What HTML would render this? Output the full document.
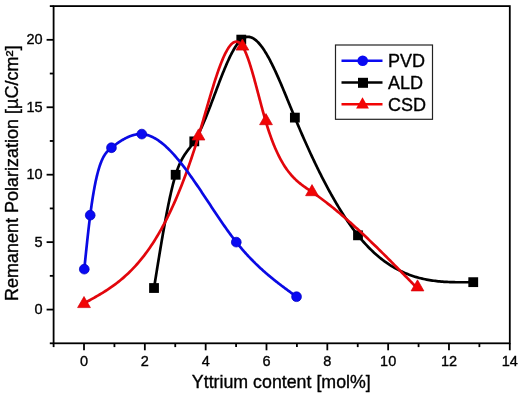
<!DOCTYPE html>
<html><head><meta charset="utf-8"><style>
html,body{margin:0;padding:0;background:#fff;}
svg{display:block;font-family:"Liberation Sans",Arial,sans-serif;}
text{stroke:#000;stroke-width:0.35px;}
</style></head><body>
<svg width="520" height="393" viewBox="0 0 520 393">
<rect width="520" height="393" fill="#fff"/>

<path d="M154.02,288.01 L154.30,286.32 L154.57,284.63 L154.84,282.95 L155.11,281.26 L155.38,279.57 L155.65,277.89 L155.92,276.20 L156.19,274.52 L156.46,272.84 L156.73,271.16 L157.00,269.49 L157.27,267.82 L157.54,266.15 L157.81,264.48 L158.08,262.82 L158.35,261.16 L158.62,259.51 L158.89,257.86 L159.16,256.21 L159.43,254.57 L159.70,252.94 L159.97,251.31 L160.24,249.68 L160.51,248.06 L160.78,246.45 L161.05,244.85 L161.32,243.25 L161.59,241.65 L161.86,240.07 L162.13,238.49 L162.40,236.92 L162.67,235.36 L162.94,233.81 L163.21,232.26 L163.49,230.72 L163.76,229.20 L164.03,227.68 L164.30,226.17 L164.57,224.67 L164.84,223.18 L165.11,221.70 L165.38,220.24 L165.65,218.78 L165.92,217.33 L166.19,215.90 L166.46,214.47 L166.73,213.06 L167.00,211.66 L167.27,210.28 L167.54,208.90 L167.81,207.54 L168.08,206.19 L168.35,204.85 L168.62,203.53 L168.89,202.22 L169.16,200.93 L169.43,199.65 L169.70,198.39 L169.97,197.14 L170.24,195.90 L170.51,194.68 L170.78,193.48 L171.05,192.29 L171.32,191.12 L171.59,189.96 L171.86,188.83 L172.13,187.70 L172.41,186.60 L172.68,185.51 L172.95,184.44 L173.22,183.39 L173.49,182.36 L173.76,181.34 L174.03,180.35 L174.30,179.37 L174.57,178.41 L174.84,177.48 L175.11,176.56 L175.38,175.66 L175.65,174.78 L175.88,174.04 L176.11,173.31 L176.35,172.60 L176.58,171.91 L176.81,171.23 L177.05,170.56 L177.28,169.90 L177.51,169.26 L177.75,168.63 L177.98,168.02 L178.21,167.42 L178.45,166.83 L178.68,166.25 L178.91,165.68 L179.14,165.13 L179.38,164.58 L179.61,164.05 L179.84,163.53 L180.08,163.02 L180.31,162.52 L180.54,162.03 L180.78,161.55 L181.01,161.08 L181.24,160.62 L181.47,160.16 L181.71,159.72 L181.94,159.28 L182.17,158.85 L182.41,158.43 L182.64,158.02 L182.87,157.62 L183.11,157.22 L183.34,156.83 L183.57,156.45 L183.81,156.07 L184.04,155.70 L184.27,155.33 L184.50,154.97 L184.74,154.61 L184.97,154.26 L185.20,153.92 L185.44,153.58 L185.67,153.24 L185.90,152.91 L186.14,152.58 L186.37,152.25 L186.60,151.93 L186.83,151.61 L187.07,151.29 L187.30,150.98 L187.53,150.67 L187.77,150.36 L188.00,150.05 L188.23,149.74 L188.47,149.43 L188.70,149.13 L188.93,148.82 L189.17,148.52 L189.40,148.21 L189.63,147.91 L189.86,147.60 L190.10,147.30 L190.33,146.99 L190.56,146.68 L190.80,146.37 L191.03,146.06 L191.26,145.75 L191.50,145.43 L191.73,145.11 L191.96,144.79 L192.19,144.47 L192.43,144.14 L192.66,143.81 L192.89,143.47 L193.13,143.13 L193.36,142.78 L193.59,142.44 L193.83,142.08 L194.06,141.72 L194.29,141.36 L194.88,140.41 L195.47,139.43 L196.05,138.42 L196.64,137.37 L197.23,136.29 L197.82,135.18 L198.40,134.04 L198.99,132.87 L199.58,131.67 L200.17,130.44 L200.75,129.19 L201.34,127.91 L201.93,126.61 L202.52,125.29 L203.10,123.94 L203.69,122.57 L204.28,121.19 L204.86,119.78 L205.45,118.36 L206.04,116.92 L206.63,115.46 L207.21,113.99 L207.80,112.51 L208.39,111.01 L208.98,109.50 L209.56,107.99 L210.15,106.46 L210.74,104.92 L211.33,103.38 L211.91,101.83 L212.50,100.28 L213.09,98.72 L213.67,97.16 L214.26,95.60 L214.85,94.03 L215.44,92.47 L216.02,90.91 L216.61,89.34 L217.20,87.79 L217.79,86.23 L218.37,84.69 L218.96,83.14 L219.55,81.61 L220.14,80.08 L220.72,78.57 L221.31,77.06 L221.90,75.57 L222.49,74.09 L223.07,72.62 L223.66,71.17 L224.25,69.73 L224.83,68.31 L225.42,66.91 L226.01,65.52 L226.60,64.16 L227.18,62.82 L227.77,61.50 L228.36,60.20 L228.95,58.93 L229.53,57.68 L230.12,56.46 L230.71,55.26 L231.30,54.10 L231.88,52.96 L232.47,51.85 L233.06,50.78 L233.65,49.73 L234.23,48.73 L234.82,47.75 L235.41,46.81 L235.99,45.91 L236.58,45.05 L237.17,44.22 L237.76,43.44 L238.34,42.69 L238.93,41.99 L239.52,41.33 L240.11,40.71 L240.69,40.14 L241.28,39.62 L241.95,39.08 L242.62,38.60 L243.29,38.18 L243.96,37.81 L244.63,37.51 L245.30,37.26 L245.97,37.07 L246.64,36.94 L247.31,36.86 L247.98,36.83 L248.65,36.85 L249.32,36.93 L249.99,37.06 L250.66,37.24 L251.33,37.47 L252.00,37.74 L252.67,38.07 L253.34,38.44 L254.01,38.86 L254.68,39.32 L255.35,39.83 L256.02,40.38 L256.69,40.97 L257.36,41.61 L258.03,42.28 L258.70,43.00 L259.37,43.76 L260.04,44.55 L260.71,45.38 L261.38,46.25 L262.05,47.15 L262.72,48.09 L263.39,49.06 L264.06,50.07 L264.73,51.11 L265.40,52.18 L266.07,53.28 L266.74,54.41 L267.40,55.57 L268.07,56.76 L268.74,57.97 L269.41,59.21 L270.08,60.48 L270.75,61.77 L271.42,63.09 L272.09,64.43 L272.76,65.79 L273.43,67.17 L274.10,68.58 L274.77,70.00 L275.44,71.44 L276.11,72.90 L276.78,74.38 L277.45,75.87 L278.12,77.38 L278.79,78.90 L279.46,80.44 L280.13,81.99 L280.80,83.55 L281.47,85.12 L282.14,86.70 L282.81,88.30 L283.48,89.90 L284.15,91.51 L284.82,93.12 L285.49,94.74 L286.16,96.37 L286.83,98.00 L287.50,99.64 L288.17,101.27 L288.84,102.91 L289.51,104.55 L290.18,106.19 L290.85,107.83 L291.52,109.47 L292.19,111.11 L292.86,112.74 L293.53,114.37 L294.20,115.99 L294.87,117.61 L295.66,119.50 L296.45,121.39 L297.24,123.27 L298.03,125.14 L298.82,127.00 L299.60,128.84 L300.39,130.68 L301.18,132.51 L301.97,134.34 L302.76,136.15 L303.55,137.95 L304.34,139.74 L305.13,141.52 L305.92,143.29 L306.71,145.05 L307.50,146.80 L308.29,148.54 L309.08,150.27 L309.86,151.99 L310.65,153.70 L311.44,155.40 L312.23,157.09 L313.02,158.77 L313.81,160.44 L314.60,162.09 L315.39,163.74 L316.18,165.38 L316.97,167.00 L317.76,168.61 L318.55,170.22 L319.33,171.81 L320.12,173.39 L320.91,174.96 L321.70,176.52 L322.49,178.07 L323.28,179.61 L324.07,181.13 L324.86,182.65 L325.65,184.15 L326.44,185.64 L327.23,187.12 L328.02,188.59 L328.81,190.05 L329.59,191.49 L330.38,192.93 L331.17,194.35 L331.96,195.76 L332.75,197.16 L333.54,198.54 L334.33,199.92 L335.12,201.28 L335.91,202.63 L336.70,203.97 L337.49,205.30 L338.28,206.61 L339.07,207.91 L339.85,209.20 L340.64,210.48 L341.43,211.74 L342.22,212.99 L343.01,214.23 L343.80,215.46 L344.59,216.68 L345.38,217.88 L346.17,219.07 L346.96,220.24 L347.75,221.40 L348.54,222.55 L349.33,223.69 L350.11,224.82 L350.90,225.93 L351.69,227.03 L352.48,228.11 L353.27,229.18 L354.06,230.24 L354.85,231.28 L355.64,232.32 L356.43,233.33 L357.22,234.34 L358.01,235.33 L359.47,237.12 L360.92,238.87 L362.38,240.58 L363.84,242.24 L365.30,243.85 L366.76,245.42 L368.22,246.95 L369.68,248.44 L371.14,249.88 L372.59,251.29 L374.05,252.65 L375.51,253.97 L376.97,255.25 L378.43,256.50 L379.89,257.70 L381.35,258.87 L382.80,260.00 L384.26,261.10 L385.72,262.15 L387.18,263.18 L388.64,264.17 L390.10,265.12 L391.56,266.04 L393.02,266.93 L394.47,267.78 L395.93,268.61 L397.39,269.40 L398.85,270.16 L400.31,270.89 L401.77,271.59 L403.23,272.26 L404.68,272.91 L406.14,273.53 L407.60,274.12 L409.06,274.68 L410.52,275.22 L411.98,275.73 L413.44,276.22 L414.90,276.68 L416.35,277.12 L417.81,277.54 L419.27,277.93 L420.73,278.30 L422.19,278.65 L423.65,278.98 L425.11,279.29 L426.57,279.59 L428.02,279.86 L429.48,280.11 L430.94,280.35 L432.40,280.57 L433.86,280.77 L435.32,280.96 L436.78,281.13 L438.23,281.29 L439.69,281.43 L441.15,281.56 L442.61,281.67 L444.07,281.78 L445.53,281.87 L446.99,281.95 L448.45,282.02 L449.90,282.08 L451.36,282.13 L452.82,282.17 L454.28,282.21 L455.74,282.23 L457.20,282.25 L458.66,282.26 L460.12,282.27 L461.57,282.27 L463.03,282.27 L464.49,282.26 L465.95,282.25 L467.41,282.23 L468.87,282.22 L470.33,282.20 L471.78,282.18 L473.24,282.16" fill="none" stroke="#000000" stroke-width="2.7" stroke-linejoin="round"/>
<rect x="149.12" y="283.11" width="9.8" height="9.8" fill="#000000"/><rect x="170.75" y="169.88" width="9.8" height="9.8" fill="#000000"/><rect x="189.39" y="136.46" width="9.8" height="9.8" fill="#000000"/><rect x="236.38" y="34.72" width="9.8" height="9.8" fill="#000000"/><rect x="289.97" y="112.71" width="9.8" height="9.8" fill="#000000"/><rect x="353.11" y="230.43" width="9.8" height="9.8" fill="#000000"/><rect x="468.34" y="277.26" width="9.8" height="9.8" fill="#000000"/>
<path d="M83.98,303.32 L85.41,302.55 L86.85,301.77 L88.28,300.99 L89.71,300.21 L91.14,299.42 L92.57,298.63 L94.00,297.83 L95.44,297.02 L96.87,296.20 L98.30,295.37 L99.73,294.53 L101.16,293.67 L102.60,292.80 L104.03,291.91 L105.46,291.01 L106.89,290.09 L108.32,289.15 L109.75,288.18 L111.19,287.20 L112.62,286.19 L114.05,285.15 L115.48,284.09 L116.91,283.01 L118.34,281.89 L119.78,280.75 L121.21,279.57 L122.64,278.36 L124.07,277.12 L125.50,275.85 L126.93,274.53 L128.37,273.19 L129.80,271.80 L131.23,270.37 L132.66,268.91 L134.09,267.40 L135.52,265.85 L136.96,264.25 L138.39,262.61 L139.82,260.92 L141.25,259.18 L142.68,257.39 L144.11,255.56 L145.55,253.67 L146.98,251.73 L148.41,249.73 L149.84,247.68 L151.27,245.57 L152.70,243.40 L154.14,241.18 L155.57,238.89 L157.00,236.54 L158.43,234.13 L159.86,231.66 L161.30,229.12 L162.73,226.51 L164.16,223.84 L165.59,221.09 L167.02,218.28 L168.45,215.39 L169.89,212.43 L171.32,209.40 L172.75,206.29 L174.18,203.11 L175.61,199.84 L177.04,196.50 L178.48,193.08 L179.91,189.58 L181.34,185.99 L182.77,182.32 L184.20,178.57 L185.63,174.73 L187.07,170.80 L188.50,166.78 L189.93,162.68 L191.36,158.48 L192.79,154.19 L194.22,149.80 L195.66,145.32 L197.09,140.74 L198.52,136.07 L199.07,134.23 L199.63,132.38 L200.19,130.51 L200.74,128.64 L201.30,126.75 L201.85,124.85 L202.41,122.95 L202.96,121.04 L203.52,119.13 L204.07,117.21 L204.63,115.29 L205.18,113.37 L205.74,111.45 L206.30,109.53 L206.85,107.61 L207.41,105.69 L207.96,103.78 L208.52,101.88 L209.07,99.98 L209.63,98.10 L210.18,96.22 L210.74,94.35 L211.29,92.50 L211.85,90.66 L212.41,88.83 L212.96,87.02 L213.52,85.23 L214.07,83.45 L214.63,81.70 L215.18,79.96 L215.74,78.25 L216.29,76.56 L216.85,74.90 L217.40,73.26 L217.96,71.65 L218.51,70.06 L219.07,68.51 L219.63,66.99 L220.18,65.49 L220.74,64.04 L221.29,62.61 L221.85,61.22 L222.40,59.87 L222.96,58.56 L223.51,57.29 L224.07,56.05 L224.62,54.86 L225.18,53.72 L225.74,52.61 L226.29,51.55 L226.85,50.54 L227.40,49.58 L227.96,48.66 L228.51,47.80 L229.07,46.99 L229.62,46.23 L230.18,45.52 L230.73,44.87 L231.29,44.28 L231.84,43.74 L232.40,43.27 L232.96,42.85 L233.51,42.50 L234.07,42.21 L234.62,41.98 L235.18,41.81 L235.73,41.72 L236.29,41.69 L236.84,41.73 L237.40,41.84 L237.95,42.02 L238.51,42.28 L239.07,42.61 L239.62,43.01 L240.18,43.49 L240.73,44.05 L241.29,44.68 L241.84,45.40 L242.40,46.20 L242.95,47.08 L243.24,47.56 L243.53,48.07 L243.81,48.60 L244.10,49.15 L244.38,49.72 L244.67,50.31 L244.95,50.92 L245.24,51.55 L245.53,52.19 L245.81,52.86 L246.10,53.55 L246.38,54.25 L246.67,54.97 L246.96,55.71 L247.24,56.46 L247.53,57.23 L247.81,58.01 L248.10,58.81 L248.39,59.63 L248.67,60.46 L248.96,61.30 L249.24,62.16 L249.53,63.03 L249.81,63.92 L250.10,64.82 L250.39,65.72 L250.67,66.64 L250.96,67.58 L251.24,68.52 L251.53,69.47 L251.82,70.44 L252.10,71.41 L252.39,72.39 L252.67,73.38 L252.96,74.38 L253.25,75.39 L253.53,76.41 L253.82,77.43 L254.10,78.46 L254.39,79.49 L254.67,80.54 L254.96,81.58 L255.25,82.64 L255.53,83.70 L255.82,84.76 L256.10,85.82 L256.39,86.89 L256.68,87.97 L256.96,89.04 L257.25,90.12 L257.53,91.20 L257.82,92.29 L258.11,93.37 L258.39,94.45 L258.68,95.54 L258.96,96.62 L259.25,97.71 L259.53,98.79 L259.82,99.87 L260.11,100.96 L260.39,102.03 L260.68,103.11 L260.96,104.19 L261.25,105.26 L261.54,106.32 L261.82,107.39 L262.11,108.44 L262.39,109.50 L262.68,110.55 L262.97,111.59 L263.25,112.63 L263.54,113.66 L263.82,114.68 L264.11,115.70 L264.39,116.71 L264.68,117.71 L264.97,118.70 L265.25,119.69 L265.54,120.66 L265.82,121.62 L266.40,123.53 L266.97,125.40 L267.55,127.23 L268.12,129.02 L268.69,130.77 L269.27,132.48 L269.84,134.16 L270.42,135.80 L270.99,137.40 L271.56,138.97 L272.14,140.50 L272.71,142.00 L273.29,143.46 L273.86,144.89 L274.44,146.29 L275.01,147.65 L275.58,148.98 L276.16,150.29 L276.73,151.56 L277.31,152.80 L277.88,154.01 L278.45,155.19 L279.03,156.34 L279.60,157.46 L280.18,158.56 L280.75,159.63 L281.32,160.67 L281.90,161.69 L282.47,162.68 L283.05,163.64 L283.62,164.58 L284.19,165.50 L284.77,166.40 L285.34,167.27 L285.92,168.12 L286.49,168.94 L287.06,169.75 L287.64,170.53 L288.21,171.30 L288.79,172.04 L289.36,172.77 L289.93,173.48 L290.51,174.17 L291.08,174.84 L291.66,175.49 L292.23,176.13 L292.80,176.75 L293.38,177.36 L293.95,177.95 L294.53,178.53 L295.10,179.09 L295.67,179.64 L296.25,180.18 L296.82,180.70 L297.40,181.22 L297.97,181.72 L298.55,182.21 L299.12,182.69 L299.69,183.16 L300.27,183.63 L300.84,184.08 L301.42,184.53 L301.99,184.97 L302.56,185.40 L303.14,185.82 L303.71,186.24 L304.29,186.66 L304.86,187.07 L305.43,187.47 L306.01,187.87 L306.58,188.27 L307.16,188.67 L307.73,189.06 L308.30,189.45 L308.88,189.85 L309.45,190.24 L310.03,190.63 L310.60,191.02 L311.17,191.41 L311.75,191.80 L313.08,192.72 L314.41,193.66 L315.74,194.60 L317.08,195.56 L318.41,196.52 L319.74,197.50 L321.07,198.49 L322.40,199.48 L323.74,200.49 L325.07,201.51 L326.40,202.54 L327.73,203.58 L329.06,204.62 L330.40,205.68 L331.73,206.75 L333.06,207.82 L334.39,208.91 L335.72,210.00 L337.06,211.11 L338.39,212.22 L339.72,213.34 L341.05,214.47 L342.38,215.60 L343.72,216.75 L345.05,217.90 L346.38,219.06 L347.71,220.23 L349.05,221.41 L350.38,222.59 L351.71,223.78 L353.04,224.98 L354.37,226.18 L355.71,227.40 L357.04,228.61 L358.37,229.84 L359.70,231.07 L361.03,232.31 L362.37,233.55 L363.70,234.80 L365.03,236.06 L366.36,237.32 L367.69,238.58 L369.03,239.86 L370.36,241.13 L371.69,242.42 L373.02,243.70 L374.35,244.99 L375.69,246.29 L377.02,247.59 L378.35,248.90 L379.68,250.21 L381.01,251.52 L382.35,252.84 L383.68,254.16 L385.01,255.49 L386.34,256.81 L387.67,258.15 L389.01,259.48 L390.34,260.82 L391.67,262.16 L393.00,263.50 L394.33,264.85 L395.67,266.20 L397.00,267.55 L398.33,268.90 L399.66,270.26 L400.99,271.62 L402.33,272.98 L403.66,274.34 L404.99,275.70 L406.32,277.06 L407.65,278.43 L408.99,279.79 L410.32,281.16 L411.65,282.53 L412.98,283.89 L414.31,285.26 L415.65,286.63 L416.98,288.00" fill="none" stroke="#e2060c" stroke-width="2.7" stroke-linejoin="round"/>
<polygon points="84.00,296.50 90.40,307.60 77.60,307.60" fill="#f20404" stroke="#d4000c" stroke-width="0.7" stroke-linejoin="round"/><polygon points="198.50,128.90 204.90,140.00 192.10,140.00" fill="#f20404" stroke="#d4000c" stroke-width="0.7" stroke-linejoin="round"/><polygon points="242.40,39.00 248.80,50.10 236.00,50.10" fill="#f20404" stroke="#d4000c" stroke-width="0.7" stroke-linejoin="round"/><polygon points="266.00,113.60 272.40,124.70 259.60,124.70" fill="#f20404" stroke="#d4000c" stroke-width="0.7" stroke-linejoin="round"/><polygon points="312.00,184.60 318.40,195.70 305.60,195.70" fill="#f20404" stroke="#d4000c" stroke-width="0.7" stroke-linejoin="round"/><polygon points="417.50,279.80 423.90,290.90 411.10,290.90" fill="#f20404" stroke="#d4000c" stroke-width="0.7" stroke-linejoin="round"/>
<path d="M84.29,269.14 L84.36,268.42 L84.44,267.70 L84.51,266.98 L84.58,266.25 L84.66,265.53 L84.73,264.81 L84.81,264.09 L84.88,263.37 L84.95,262.65 L85.03,261.93 L85.10,261.21 L85.18,260.49 L85.25,259.77 L85.32,259.05 L85.40,258.34 L85.47,257.62 L85.55,256.90 L85.62,256.19 L85.70,255.47 L85.77,254.76 L85.84,254.05 L85.92,253.33 L85.99,252.62 L86.07,251.91 L86.14,251.21 L86.21,250.50 L86.29,249.79 L86.36,249.09 L86.44,248.38 L86.51,247.68 L86.59,246.98 L86.66,246.28 L86.73,245.58 L86.81,244.88 L86.88,244.19 L86.96,243.49 L87.03,242.80 L87.10,242.11 L87.18,241.42 L87.25,240.73 L87.33,240.05 L87.40,239.36 L87.47,238.68 L87.55,238.00 L87.62,237.32 L87.70,236.65 L87.77,235.97 L87.85,235.30 L87.92,234.63 L87.99,233.96 L88.07,233.30 L88.14,232.64 L88.22,231.98 L88.29,231.32 L88.36,230.66 L88.44,230.01 L88.51,229.36 L88.59,228.71 L88.66,228.06 L88.74,227.42 L88.81,226.78 L88.88,226.14 L88.96,225.51 L89.03,224.87 L89.11,224.24 L89.18,223.62 L89.25,222.99 L89.33,222.37 L89.40,221.76 L89.48,221.14 L89.55,220.53 L89.62,219.92 L89.70,219.32 L89.77,218.72 L89.85,218.12 L89.92,217.52 L90.00,216.93 L90.07,216.34 L90.14,215.76 L90.22,215.18 L90.48,213.13 L90.75,211.12 L91.01,209.16 L91.28,207.24 L91.54,205.37 L91.81,203.54 L92.08,201.75 L92.34,200.00 L92.61,198.30 L92.87,196.63 L93.14,195.01 L93.40,193.42 L93.67,191.88 L93.93,190.37 L94.20,188.90 L94.46,187.47 L94.73,186.07 L94.99,184.71 L95.26,183.39 L95.52,182.10 L95.79,180.84 L96.06,179.62 L96.32,178.44 L96.59,177.28 L96.85,176.16 L97.12,175.07 L97.38,174.01 L97.65,172.98 L97.91,171.98 L98.18,171.01 L98.44,170.07 L98.71,169.16 L98.97,168.28 L99.24,167.42 L99.51,166.59 L99.77,165.79 L100.04,165.01 L100.30,164.26 L100.57,163.53 L100.83,162.82 L101.10,162.14 L101.36,161.48 L101.63,160.84 L101.89,160.23 L102.16,159.63 L102.42,159.06 L102.69,158.51 L102.95,157.97 L103.22,157.46 L103.49,156.96 L103.75,156.48 L104.02,156.02 L104.28,155.57 L104.55,155.14 L104.81,154.73 L105.08,154.33 L105.34,153.94 L105.61,153.57 L105.87,153.21 L106.14,152.86 L106.40,152.53 L106.67,152.21 L106.94,151.90 L107.20,151.60 L107.47,151.31 L107.73,151.02 L108.00,150.75 L108.26,150.49 L108.53,150.23 L108.79,149.98 L109.06,149.73 L109.32,149.50 L109.59,149.26 L109.85,149.04 L110.12,148.81 L110.38,148.59 L110.65,148.38 L110.92,148.16 L111.18,147.95 L111.45,147.74 L111.83,147.44 L112.20,147.14 L112.58,146.84 L112.96,146.55 L113.34,146.26 L113.72,145.97 L114.10,145.68 L114.48,145.39 L114.86,145.11 L115.24,144.83 L115.62,144.55 L116.00,144.27 L116.38,144.00 L116.76,143.72 L117.14,143.45 L117.52,143.19 L117.90,142.92 L118.28,142.66 L118.65,142.40 L119.03,142.15 L119.41,141.89 L119.79,141.64 L120.17,141.40 L120.55,141.15 L120.93,140.91 L121.31,140.67 L121.69,140.44 L122.07,140.21 L122.45,139.98 L122.83,139.76 L123.21,139.54 L123.59,139.32 L123.97,139.10 L124.35,138.89 L124.73,138.69 L125.10,138.48 L125.48,138.28 L125.86,138.09 L126.24,137.90 L126.62,137.71 L127.00,137.53 L127.38,137.35 L127.76,137.17 L128.14,137.00 L128.52,136.83 L128.90,136.67 L129.28,136.51 L129.66,136.36 L130.04,136.21 L130.42,136.06 L130.80,135.92 L131.18,135.79 L131.55,135.66 L131.93,135.53 L132.31,135.41 L132.69,135.29 L133.07,135.18 L133.45,135.08 L133.83,134.97 L134.21,134.88 L134.59,134.79 L134.97,134.70 L135.35,134.62 L135.73,134.54 L136.11,134.47 L136.49,134.41 L136.87,134.35 L137.25,134.29 L137.63,134.25 L138.00,134.20 L138.38,134.17 L138.76,134.14 L139.14,134.11 L139.52,134.09 L139.90,134.08 L140.28,134.07 L140.66,134.07 L141.04,134.07 L141.42,134.08 L141.80,134.10 L142.98,134.19 L144.16,134.35 L145.34,134.56 L146.52,134.83 L147.70,135.15 L148.89,135.53 L150.07,135.97 L151.25,136.46 L152.43,137.00 L153.61,137.59 L154.79,138.23 L155.97,138.92 L157.15,139.66 L158.34,140.44 L159.52,141.28 L160.70,142.15 L161.88,143.07 L163.06,144.03 L164.24,145.04 L165.42,146.08 L166.60,147.16 L167.78,148.28 L168.97,149.44 L170.15,150.64 L171.33,151.87 L172.51,153.13 L173.69,154.43 L174.87,155.76 L176.05,157.12 L177.23,158.51 L178.42,159.92 L179.60,161.37 L180.78,162.84 L181.96,164.34 L183.14,165.86 L184.32,167.40 L185.50,168.97 L186.68,170.56 L187.86,172.17 L189.05,173.79 L190.23,175.44 L191.41,177.10 L192.59,178.78 L193.77,180.47 L194.95,182.18 L196.13,183.89 L197.31,185.62 L198.50,187.36 L199.68,189.11 L200.86,190.87 L202.04,192.64 L203.22,194.41 L204.40,196.18 L205.58,197.96 L206.76,199.75 L207.94,201.53 L209.13,203.32 L210.31,205.10 L211.49,206.89 L212.67,208.67 L213.85,210.44 L215.03,212.22 L216.21,213.99 L217.39,215.75 L218.58,217.50 L219.76,219.24 L220.94,220.98 L222.12,222.70 L223.30,224.41 L224.48,226.11 L225.66,227.79 L226.84,229.46 L228.02,231.11 L229.21,232.75 L230.39,234.36 L231.57,235.96 L232.75,237.53 L233.93,239.09 L235.11,240.62 L236.29,242.13 L237.06,243.09 L237.82,244.04 L238.58,244.98 L239.34,245.90 L240.11,246.82 L240.87,247.73 L241.63,248.63 L242.39,249.53 L243.16,250.41 L243.92,251.28 L244.68,252.14 L245.44,253.00 L246.21,253.84 L246.97,254.68 L247.73,255.51 L248.50,256.33 L249.26,257.14 L250.02,257.94 L250.78,258.73 L251.55,259.52 L252.31,260.30 L253.07,261.07 L253.83,261.84 L254.60,262.59 L255.36,263.34 L256.12,264.09 L256.88,264.82 L257.65,265.55 L258.41,266.27 L259.17,266.99 L259.93,267.70 L260.70,268.40 L261.46,269.10 L262.22,269.79 L262.99,270.47 L263.75,271.15 L264.51,271.82 L265.27,272.49 L266.04,273.15 L266.80,273.81 L267.56,274.46 L268.32,275.11 L269.09,275.75 L269.85,276.38 L270.61,277.02 L271.37,277.64 L272.14,278.27 L272.90,278.89 L273.66,279.50 L274.43,280.11 L275.19,280.72 L275.95,281.32 L276.71,281.93 L277.48,282.52 L278.24,283.12 L279.00,283.71 L279.76,284.29 L280.53,284.88 L281.29,285.46 L282.05,286.04 L282.81,286.61 L283.58,287.19 L284.34,287.76 L285.10,288.33 L285.86,288.90 L286.63,289.46 L287.39,290.03 L288.15,290.59 L288.92,291.15 L289.68,291.71 L290.44,292.27 L291.20,292.83 L291.97,293.38 L292.73,293.94 L293.49,294.50 L294.25,295.05 L295.02,295.60 L295.78,296.16 L296.54,296.71" fill="none" stroke="#0a0ae4" stroke-width="2.7" stroke-linejoin="round"/>
<circle cx="84.29" cy="269.14" r="4.9" fill="#0a0af2" stroke="#0000c0" stroke-width="0.7"/><circle cx="90.22" cy="215.18" r="4.9" fill="#0a0af2" stroke="#0000c0" stroke-width="0.7"/><circle cx="111.45" cy="147.74" r="4.9" fill="#0a0af2" stroke="#0000c0" stroke-width="0.7"/><circle cx="141.80" cy="134.10" r="4.9" fill="#0a0af2" stroke="#0000c0" stroke-width="0.7"/><circle cx="236.29" cy="242.13" r="4.9" fill="#0a0af2" stroke="#0000c0" stroke-width="0.7"/><circle cx="296.54" cy="296.71" r="4.9" fill="#0a0af2" stroke="#0000c0" stroke-width="0.7"/>

<g stroke="#000" stroke-width="1.8" fill="none">
<rect x="53.6" y="6.1" width="456.20" height="337.20"/>
<line x1="53.60" y1="343.30" x2="53.60" y2="347.10"/><line x1="84.01" y1="343.30" x2="84.01" y2="350.30"/><line x1="114.43" y1="343.30" x2="114.43" y2="347.10"/><line x1="144.84" y1="343.30" x2="144.84" y2="350.30"/><line x1="175.25" y1="343.30" x2="175.25" y2="347.10"/><line x1="205.67" y1="343.30" x2="205.67" y2="350.30"/><line x1="236.08" y1="343.30" x2="236.08" y2="347.10"/><line x1="266.49" y1="343.30" x2="266.49" y2="350.30"/><line x1="296.91" y1="343.30" x2="296.91" y2="347.10"/><line x1="327.32" y1="343.30" x2="327.32" y2="350.30"/><line x1="357.73" y1="343.30" x2="357.73" y2="347.10"/><line x1="388.15" y1="343.30" x2="388.15" y2="350.30"/><line x1="418.56" y1="343.30" x2="418.56" y2="347.10"/><line x1="448.97" y1="343.30" x2="448.97" y2="350.30"/><line x1="479.39" y1="343.30" x2="479.39" y2="347.10"/><line x1="509.80" y1="343.30" x2="509.80" y2="350.30"/><line x1="49.80" y1="343.30" x2="53.60" y2="343.30"/><line x1="46.60" y1="309.58" x2="53.60" y2="309.58"/><line x1="49.80" y1="275.86" x2="53.60" y2="275.86"/><line x1="46.60" y1="242.14" x2="53.60" y2="242.14"/><line x1="49.80" y1="208.42" x2="53.60" y2="208.42"/><line x1="46.60" y1="174.70" x2="53.60" y2="174.70"/><line x1="49.80" y1="140.98" x2="53.60" y2="140.98"/><line x1="46.60" y1="107.26" x2="53.60" y2="107.26"/><line x1="49.80" y1="73.54" x2="53.60" y2="73.54"/><line x1="46.60" y1="39.82" x2="53.60" y2="39.82"/><line x1="49.80" y1="6.10" x2="53.60" y2="6.10"/>
</g>
<g font-size="14.5" fill="#000"><text x="84.01" y="365.8" text-anchor="middle">0</text><text x="144.84" y="365.8" text-anchor="middle">2</text><text x="205.67" y="365.8" text-anchor="middle">4</text><text x="266.49" y="365.8" text-anchor="middle">6</text><text x="327.32" y="365.8" text-anchor="middle">8</text><text x="388.15" y="365.8" text-anchor="middle">10</text><text x="448.97" y="365.8" text-anchor="middle">12</text><text x="509.80" y="365.8" text-anchor="middle">14</text><text x="42.6" y="314.18" text-anchor="end">0</text><text x="42.6" y="246.74" text-anchor="end">5</text><text x="42.6" y="179.30" text-anchor="end">10</text><text x="42.6" y="111.86" text-anchor="end">15</text><text x="42.6" y="44.42" text-anchor="end">20</text></g>

<rect x="335.5" y="45" width="97" height="74.3" fill="none" stroke="#222" stroke-width="1.2"/>
<line x1="341.5" y1="60.8" x2="382.5" y2="60.8" stroke="#0a0af2" stroke-width="2.4"/>
<circle cx="362.7" cy="60.8" r="5.3" fill="#0a0af2"/>
<line x1="341.5" y1="82.5" x2="382.5" y2="82.5" stroke="#000000" stroke-width="2.4"/>
<rect x="358" y="77.8" width="10" height="10" fill="#000000"/>
<line x1="341.5" y1="104.3" x2="382.5" y2="104.3" stroke="#f20404" stroke-width="2.4"/>
<polygon points="362.5,97.2 368.9,108.4 356.1,108.4" fill="#f20404"/>
<text x="388" y="67" font-size="18">PVD</text>
<text x="388" y="89" font-size="18">ALD</text>
<text x="388" y="110.5" font-size="18">CSD</text>

<text x="281.3" y="387.7" font-size="17.8" text-anchor="middle">Yttrium content [mol%]</text>
<text transform="translate(17.5,173.3) rotate(-90)" font-size="18" text-anchor="middle">Remanent Polarization [µC/cm²]</text>
</svg>
</body></html>
